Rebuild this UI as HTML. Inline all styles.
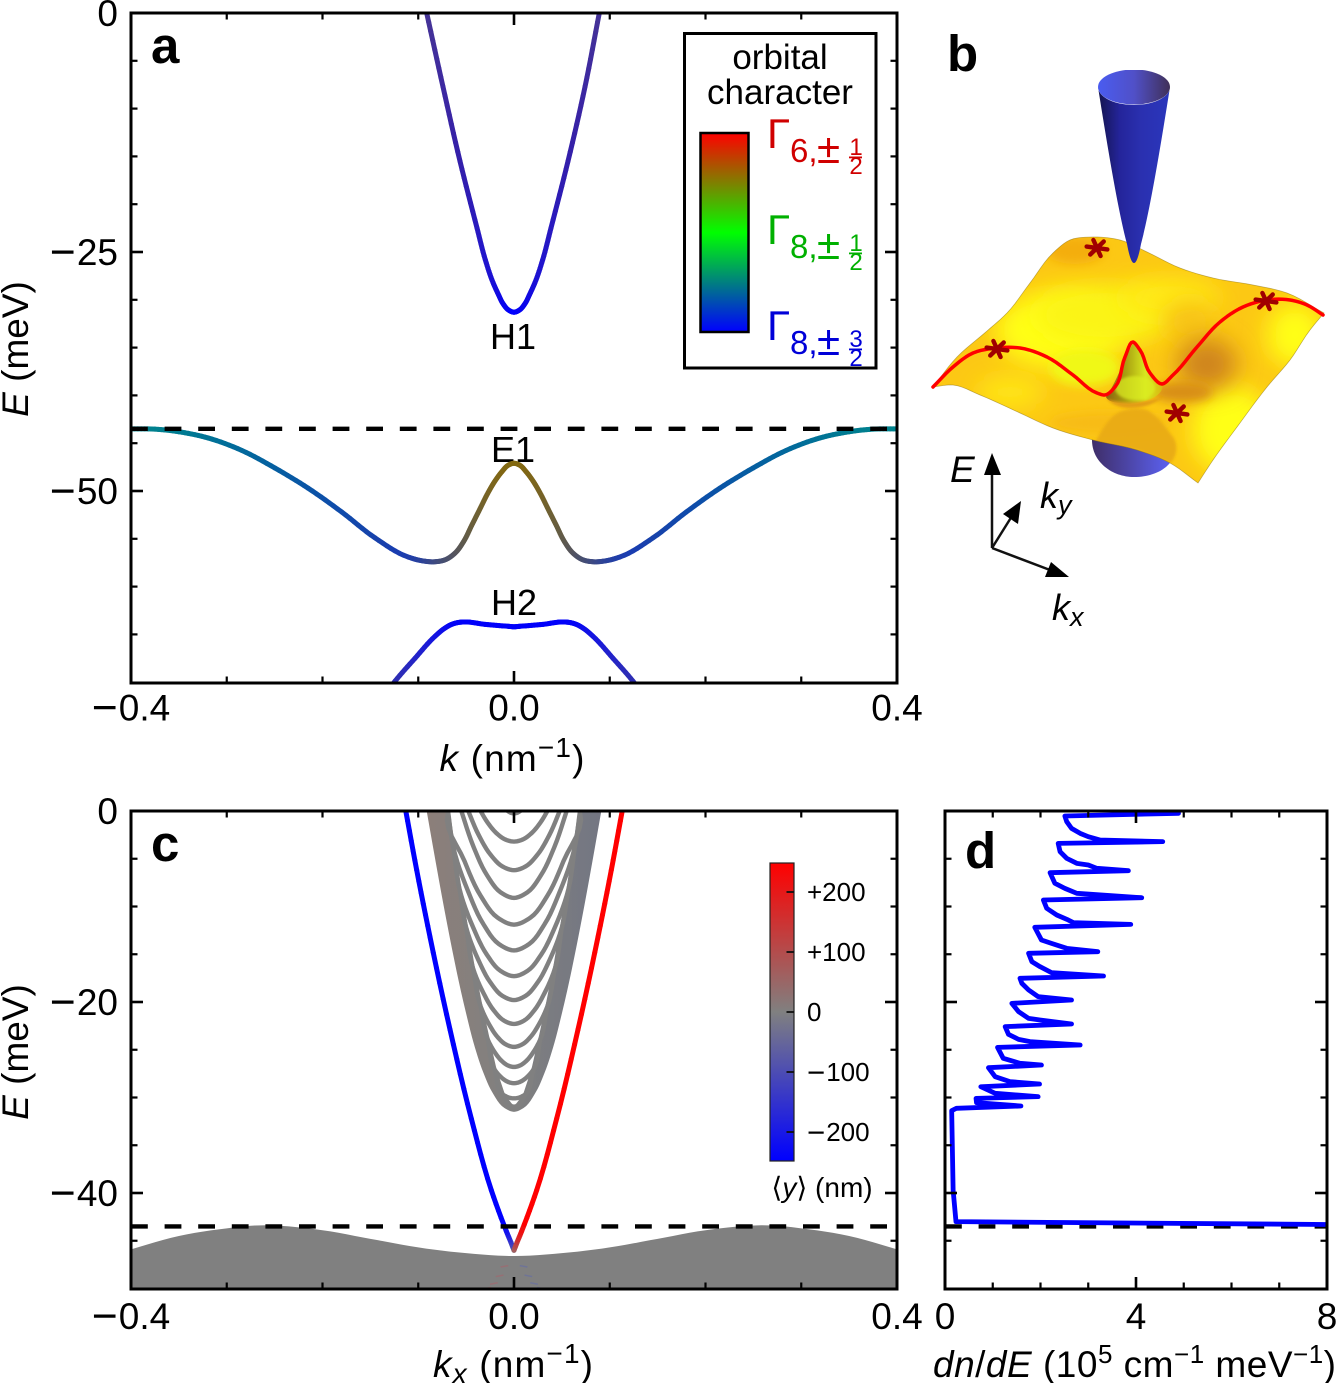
<!DOCTYPE html>
<html>
<head>
<meta charset="utf-8">
<title>Band structure figure</title>
<style>
html,body{margin:0;padding:0;background:#fff;}
svg{display:block;font-family:"Liberation Sans",sans-serif;fill:#000;}
.tl{font-size:37px;}
.pl{font-size:51px;font-weight:bold;}
.it{font-style:italic;}
</style>
</head>
<body>
<svg id="fig" width="1336" height="1383" viewBox="0 0 1336 1383" xmlns="http://www.w3.org/2000/svg">
<defs>
  <clipPath id="clipA"><rect x="131" y="13" width="766" height="670"/></clipPath>
  <clipPath id="clipC"><rect x="131" y="811" width="766" height="478"/></clipPath>
  <clipPath id="clipD"><rect x="945" y="811" width="382" height="478"/></clipPath>
  <clipPath id="clipCone"><rect x="1080" y="70" width="110" height="200"/></clipPath>
  <clipPath id="clipSurface"><path id="surfaceClipPath" d=""/></clipPath>
  <linearGradient id="orbitalGrad" x1="0" y1="0" x2="0" y2="1">
    <stop offset="0" stop-color="#ff0000"/><stop offset="0.5" stop-color="#00ff00"/><stop offset="1" stop-color="#0000ff"/>
  </linearGradient>
  <linearGradient id="yGrad" x1="0" y1="0" x2="0" y2="1">
    <stop offset="0" stop-color="#ff0000"/><stop offset="0.5" stop-color="#808080"/><stop offset="1" stop-color="#0000ff"/>
  </linearGradient>
  <linearGradient id="bandGrad" gradientUnits="userSpaceOnUse" x1="426" y1="0" x2="601" y2="0">
    <stop offset="0" stop-color="#8c7f7a"/><stop offset="0.5" stop-color="#808080"/><stop offset="1" stop-color="#737682"/>
  </linearGradient>
  <linearGradient id="coneBody" x1="0" y1="0" x2="1" y2="0">
    <stop offset="0" stop-color="#14144e"/><stop offset="0.3" stop-color="#24249a"/><stop offset="0.6" stop-color="#2a30b0"/><stop offset="1" stop-color="#2a36bc"/>
  </linearGradient>
  <linearGradient id="coneTop" x1="0" y1="0" x2="1" y2="0">
    <stop offset="0" stop-color="#4a5cf0"/><stop offset="0.5" stop-color="#5050c8"/><stop offset="1" stop-color="#403058"/>
  </linearGradient>
  <linearGradient id="coneLow" x1="0" y1="0" x2="1" y2="0">
    <stop offset="0" stop-color="#3f2e68"/><stop offset="1" stop-color="#5c62f4"/>
  </linearGradient>
  <linearGradient id="peakGrad" x1="0" y1="0" x2="1" y2="0">
    <stop offset="0" stop-color="#8c6010"/><stop offset="0.35" stop-color="#a8a010"/><stop offset="0.7" stop-color="#d8e820"/><stop offset="1" stop-color="#d8b810"/>
  </linearGradient>
  <filter id="blur12" x="-60%" y="-60%" width="220%" height="220%"><feGaussianBlur stdDeviation="12"/></filter>
  <filter id="blur5" x="-60%" y="-60%" width="220%" height="220%"><feGaussianBlur stdDeviation="5"/></filter>
  <filter id="blur2" x="-30%" y="-30%" width="160%" height="160%"><feGaussianBlur stdDeviation="1.4"/></filter>
</defs>

<rect x="0" y="0" width="1336" height="1383" fill="#ffffff"/>

<!-- PANEL A -->
<g id="panelA">
  <text font-size="36" x="513" y="349" text-anchor="middle">H1</text>
  <text font-size="36" x="513" y="462" text-anchor="middle">E1</text>
  <text font-size="36" x="514" y="615" text-anchor="middle">H2</text>
  <g id="aMarks" clip-path="url(#clipA)"></g>
  <g id="aTicks"></g>
  <rect x="131" y="13" width="766" height="670" fill="none" stroke="#000" stroke-width="3"/>
  <text class="pl" x="151" y="63">a</text>
  <text class="tl" transform="rotate(-90 28 349)" x="28" y="349" text-anchor="middle"><tspan class="it">E</tspan> (meV)</text>
  <text class="tl" x="512" y="771" text-anchor="middle" textLength="145" lengthAdjust="spacing"><tspan class="it">k</tspan> (nm<tspan dy="-14" font-size="28">−1</tspan><tspan dy="14">)</tspan></text>
</g>

<!-- LEGEND -->
<g>
  <rect x="684.5" y="33.5" width="191.5" height="334.5" fill="#fff" stroke="#000" stroke-width="3"/>
  <text font-size="35" x="780" y="69" text-anchor="middle">orbital</text>
  <text font-size="35" x="780" y="104" text-anchor="middle">character</text>
  <rect x="700.5" y="133" width="48" height="199" fill="url(#orbitalGrad)" stroke="#000" stroke-width="2.5"/>
  <g>
    <text font-size="42" x="767" y="148" fill="#d00000">Γ</text>
    <text font-size="33" x="790" y="162" fill="#d00000">6,</text>
    <text font-size="42" x="817" y="163" fill="#d00000">±</text>
    <text font-size="24" x="856" y="155" text-anchor="middle" fill="#d00000">1</text>
    <rect x="849" y="156.5" width="13" height="1.8" fill="#d00000"/>
    <text font-size="24" x="856" y="174" text-anchor="middle" fill="#d00000">2</text>
  </g>
  <g>
    <text font-size="42" x="767" y="244" fill="#00b000">Γ</text>
    <text font-size="33" x="790" y="258" fill="#00b000">8,</text>
    <text font-size="42" x="817" y="259" fill="#00b000">±</text>
    <text font-size="24" x="856" y="251" text-anchor="middle" fill="#00b000">1</text>
    <rect x="849" y="252.5" width="13" height="1.8" fill="#00b000"/>
    <text font-size="24" x="856" y="270" text-anchor="middle" fill="#00b000">2</text>
  </g>
  <g>
    <text font-size="42" x="767" y="340" fill="#0000d8">Γ</text>
    <text font-size="33" x="790" y="354" fill="#0000d8">8,</text>
    <text font-size="42" x="817" y="355" fill="#0000d8">±</text>
    <text font-size="24" x="856" y="347" text-anchor="middle" fill="#0000d8">3</text>
    <rect x="849" y="348.5" width="13" height="1.8" fill="#0000d8"/>
    <text font-size="24" x="856" y="366" text-anchor="middle" fill="#0000d8">2</text>
  </g>
</g>

<!-- PANEL B -->
<g id="panelB">
  <text class="pl" x="947" y="71">b</text>
  <path d="M1092,440 C1092,462 1112,477 1134,477 C1152,477 1166,470 1172,460 L1172,430 L1092,430 Z" fill="url(#coneLow)"/>
  <path id="surfaceBase" d="" fill="#fcc814"/>
  <g clip-path="url(#clipSurface)">
    <ellipse cx="1060" cy="330" rx="65" ry="38" fill="#ffff18" filter="url(#blur12)"/>
    <ellipse cx="1105" cy="315" rx="70" ry="30" fill="#fbf414" filter="url(#blur12)"/>
    <ellipse cx="1170" cy="298" rx="50" ry="20" fill="#ffea14" filter="url(#blur12)"/>
    <ellipse cx="1085" cy="368" rx="35" ry="18" fill="#f0f818" filter="url(#blur5)"/>
    <ellipse cx="1295" cy="335" rx="28" ry="32" fill="#ffff18" filter="url(#blur12)"/>
    <ellipse cx="1232" cy="430" rx="40" ry="44" fill="#ffff18" filter="url(#blur12)"/>
    <ellipse cx="1010" cy="392" rx="34" ry="15" fill="#ffe818" filter="url(#blur12)"/>
    <ellipse cx="1190" cy="322" rx="26" ry="22" fill="#f8c414" filter="url(#blur12)"/>
    <ellipse cx="1207" cy="364" rx="30" ry="26" fill="#cf841a" filter="url(#blur12)"/>
    <ellipse cx="1182" cy="392" rx="30" ry="10" fill="#d88e16" filter="url(#blur5)"/>
    <ellipse cx="1075" cy="250" rx="30" ry="14" fill="#f4ae10" filter="url(#blur5)"/>
    <ellipse cx="1110" cy="423" rx="60" ry="11" fill="#f8bc12" filter="url(#blur5)"/>
    <path d="M1095,443 C1102,428 1112,414 1122,411 C1132,408 1140,408 1147,410 C1158,416 1166,428 1173,437 C1179,446 1176,458 1170,463 L1137,450 Z" fill="#e8aa16" opacity="0.9" filter="url(#blur2)"/>
    <path d="M1108,396 C1114,388 1120,378 1124,368 L1128,398 Z" fill="#a86a12" filter="url(#blur2)"/>
    <path d="M1106,397 C1118,380 1125,355 1134,342 C1142,352 1148,376 1162,384 C1165,394 1150,402 1130,404 C1118,404 1108,402 1106,397 Z" fill="url(#peakGrad)"/>
    <ellipse cx="1135" cy="388" rx="20" ry="12" fill="#dcee24" opacity="0.7" filter="url(#blur2)"/>
    <path d="M1106,398 C1118,405 1148,403 1164,396 C1158,401 1148,408 1130,408 C1118,408 1110,403 1106,398 Z" fill="#e29c12" filter="url(#blur2)"/>
  </g>
  <path id="surfaceEdge" d="" fill="none" stroke="#8a7010" stroke-width="0.7" opacity="0.55"/>
  <g clip-path="url(#clipCone)">
    <path d="M1098,87 C1108,150 1118,210 1127,244 Q1134,282 1141,244 C1150,210 1160,150 1170,87 A36,18 0 0 1 1098,87 Z" fill="url(#coneBody)"/>
    <ellipse cx="1134" cy="87" rx="36" ry="17.5" fill="url(#coneTop)"/>
  </g>
  <path id="redCurve" d="" fill="none" stroke="#ff0000" stroke-width="3.5" stroke-linejoin="round" stroke-linecap="round"/>
  <g id="stars"></g>

  <g stroke="#111">
    <line x1="992" y1="548" x2="992" y2="470" stroke-width="2.5"/>
    <line x1="992" y1="548" x2="1012" y2="516" stroke-width="2.5"/>
    <line x1="992" y1="548" x2="1050" y2="570" stroke-width="2.5"/>
    <polygon points="992,453 1001,475 984,475" fill="#000" stroke="none"/>
    <polygon points="1021,501 1018,524 1003,514" fill="#000" stroke="none"/>
    <polygon points="1069,577 1045,577 1051,562" fill="#000" stroke="none"/>
  </g>
  <text class="it" font-size="37" x="950" y="482">E</text>
  <text class="it" font-size="36" x="1040" y="508">k<tspan font-size="27" dy="6">y</tspan></text>
  <text class="it" font-size="36" x="1052" y="620">k<tspan font-size="27" dy="6">x</tspan></text>
</g>

<!-- PANEL C -->
<g id="panelC">
  <g id="cMarks" clip-path="url(#clipC)"></g>
  <g>
    <rect x="770" y="863" width="24" height="298" fill="url(#yGrad)" stroke="#222" stroke-width="1.2"/>
    <g id="cbTicks"></g>
    <text font-size="28" x="822" y="1197" text-anchor="middle">⟨<tspan class="it">y</tspan>⟩ (nm)</text>
  </g>
  <g id="cTicks"></g>
  <rect x="131" y="811" width="766" height="478" fill="none" stroke="#000" stroke-width="3"/>
  <text class="pl" x="151" y="861">c</text>
  <text class="tl" transform="rotate(-90 28 1052)" x="28" y="1052" text-anchor="middle"><tspan class="it">E</tspan> (meV)</text>
  <text class="tl" x="513" y="1377" text-anchor="middle" textLength="160" lengthAdjust="spacing"><tspan class="it">k<tspan font-size="28" dy="6">x</tspan></tspan><tspan dy="-6"> (nm</tspan><tspan dy="-14" font-size="28">−1</tspan><tspan dy="14">)</tspan></text>
</g>

<!-- PANEL D -->
<g id="panelD">
  <g id="dMarks" clip-path="url(#clipD)"></g>
  <g id="dTicks"></g>
  <rect x="945" y="811" width="382" height="478" fill="none" stroke="#000" stroke-width="3"/>
  <text class="pl" x="965" y="868">d</text>
  <text class="tl" x="933" y="1377" textLength="403" lengthAdjust="spacing"><tspan class="it">dn</tspan>/<tspan class="it">dE</tspan> (10<tspan dy="-14" font-size="26">5</tspan><tspan dy="14"> cm</tspan><tspan dy="-14" font-size="26">−1</tspan><tspan dy="14"> meV</tspan><tspan dy="-14" font-size="26">−1</tspan><tspan dy="14">)</tspan></text>
</g>

<script>
// ---------- panel a data ----------
const h1K = [-0.0912,-0.0742,-0.0564,-0.0386,-0.03,-0.0219,-0.0165,-0.0115,-0.006,0,0.006,0.0115,0.0165,0.0219,0.03,0.0386,0.0564,0.0742,0.0891];
const h1E = [0,-7.7,-15.5,-22.5,-25.8,-28.2,-29.4,-30.4,-31.05,-31.3,-31.05,-30.4,-29.4,-28.2,-25.8,-22.5,-15.5,-7.7,0];
const h1Gamma6 = [0.27,0.24,0.2,0.16,0.13,0.1,0.07,0.04,0.02,0,0.02,0.04,0.07,0.1,0.13,0.16,0.2,0.24,0.27];
const h1Gamma8a = [0.2,0.16,0.12,0.1,0.08,0.06,0.04,0.02,0.01,0,0.01,0.02,0.04,0.06,0.08,0.1,0.12,0.16,0.2];
const h1Gamma8b = [0.59,0.63,0.67,0.75,0.8,0.84,0.88,0.92,0.96,1,0.96,0.92,0.88,0.84,0.8,0.75,0.67,0.63,0.59];

const e1K = [-0.4,-0.3715,-0.347,-0.3196,-0.2844,-0.2496,-0.2151,-0.1799,-0.1452,-0.1107,-0.096,-0.0825,-0.072,-0.0616,-0.0527,-0.0442,-0.0357,-0.0272,-0.0195,-0.0128,-0.006,0];
const e1E = [-43.5,-43.55,-43.85,-44.45,-45.75,-47.6,-49.7,-52.2,-54.9,-56.9,-57.3,-57.4,-57.2,-56.5,-55.3,-53.6,-51.9,-50.2,-48.9,-48.0,-47.3,-47.1];
const e1Gamma6 = [0,0,0,0,0.01,0.02,0.04,0.06,0.09,0.12,0.17,0.24,0.28,0.33,0.37,0.41,0.44,0.47,0.49,0.5,0.51,0.51];
const e1Gamma8a = [0.51,0.5,0.48,0.45,0.41,0.37,0.33,0.29,0.26,0.24,0.26,0.29,0.31,0.33,0.35,0.37,0.38,0.39,0.4,0.4,0.41,0.41];
const e1Gamma8b = [0.55,0.56,0.57,0.59,0.61,0.63,0.65,0.67,0.67,0.67,0.6,0.51,0.44,0.37,0.3,0.24,0.19,0.14,0.11,0.08,0.07,0.06];

const h2K = [-0.14,-0.1243,-0.1034,-0.0825,-0.073,-0.0651,-0.058,-0.0512,-0.0303,-0.0063,0];
const h2E = [-72,-69.9,-67.5,-65.2,-64.4,-63.95,-63.75,-63.7,-63.95,-64.15,-64.2];
const h2Gamma6 = [0.18,0.18,0.14,0.08,0.05,0.02,0.01,0,0,0,0];
const h2Gamma8a = [0.18,0.18,0.14,0.08,0.05,0.02,0.01,0,0,0,0];
const h2Gamma8b = [0.69,0.7,0.78,0.88,0.92,0.96,0.97,0.98,0.98,0.98,0.98];

const neutralityE = [-43.5];
const kMajorTicks = [0];
const kMinorTicks = [-0.3,-0.2,-0.1,0.1,0.2,0.3];
const kTickLabelValues = [-0.4,0,0.4];
const kTickLabels = ['−0.4','0.0','0.4'];
const aEMajorTicks = [-25,-50];
const aEMinorTicks = [-5,-10,-15,-20,-30,-35,-40,-45,-55,-60,-65];
const aETickLabelValues = [0,-25,-50];
const aETickLabels = ['0','−25','−50'];

// ---------- panel c data ----------
const envelopeK = [-0.0912,-0.0815,-0.072,-0.065,-0.058,-0.05,-0.0407,-0.032,-0.023,-0.01,0,0.01,0.023,0.032,0.0407,0.05,0.058,0.065,0.072,0.0815,0.0912];
const envelopeE = [0,-5.5,-10.7,-14.3,-17.7,-21.2,-24.8,-27.4,-29.4,-31.1,-31.5,-31.1,-29.4,-27.4,-24.8,-21.2,-17.7,-14.3,-10.7,-5.5,0];
const levelBottomE = [-30.96,-30.09,-28.5,-26.8,-24.7,-22.3,-19.8,-17.3,-14.6,-11.9,-9.1,-6.2,-3.2,-0.25];
const mergeK = [-0.0094,-0.0181,-0.0251,-0.0327,-0.0407,-0.0477,-0.0546,-0.0616,-0.0668];
const mergeE = [-29.7,-27.1,-24.0,-20.5,-16.5,-12.3,-8.3,-3.7,-0.1];
const upperCrossK = [-0.0672,-0.056,-0.049,-0.0366,-0.012];
const upperCrossE = [0.3,0.3,0.3,0.3,0.6];
const edgeK = [0,0.0023,0.008,0.0237,0.0446,0.0668,0.0877,0.1016,0.113];
const edgeE = [-46,-45.4,-44,-39.7,-32.2,-22.9,-13.2,-6.2,0];
const edgeAbsY = [60,120,220,250,250,250,250,250,250];
const valenceK = [-0.4,-0.35,-0.3,-0.27,-0.2,-0.15,-0.1,-0.05,0,0.05,0.1,0.15,0.2,0.27,0.3,0.35,0.4];
const valenceE = [-45.9,-44.5,-43.7,-43.4,-43.9,-44.8,-45.7,-46.3,-46.6,-46.3,-45.7,-44.8,-43.9,-43.4,-43.7,-44.5,-45.9];
const ghostK = [0.006,0.011,0.017,0.024];
const ghostE = [-47.6,-48.6,-49.4,-49.9];
const cEMajorTicks = [-20,-40];
const cEMinorTicks = [-5,-10,-15,-25,-30,-35,-45];
const cETickLabelValues = [0,-20,-40];
const cETickLabels = ['0','−20','−40'];
const positionTickValues = [200,100,0,-100,-200];
const positionTickLabels = ['+200','+100','0','−100','−200'];

// ---------- panel d data ----------
const dosV = [4.89,2.51,2.55,2.65,2.83,3.00,3.25,4.56,2.37,2.41,2.55,2.76,3.00,3.18,3.84,2.20,2.30,2.51,2.76,4.12,2.06,2.13,2.34,2.58,2.69,3.89,1.88,2.02,2.23,2.55,3.20,1.75,1.82,1.99,2.23,3.32,1.57,1.61,1.75,1.95,2.65,1.40,1.54,1.75,1.99,2.65,1.26,1.33,1.54,1.78,2.83,1.10,1.22,1.57,2.02,0.91,1.05,1.36,1.98,0.75,1.05,1.95,0.65,0.66,1.59,0.24,0.14,0.17,0.23,8.0];
const dosE = [-0.24,-0.52,-1.12,-1.82,-2.34,-2.69,-3.04,-3.21,-3.39,-4.26,-4.96,-5.48,-5.65,-6.00,-6.25,-6.46,-7.57,-8.10,-8.62,-9.08,-9.32,-10.19,-10.89,-11.41,-11.69,-11.87,-12.18,-13.51,-13.86,-14.38,-14.73,-14.90,-15.78,-16.30,-16.93,-17.28,-17.52,-18.05,-18.74,-19.44,-19.79,-20.14,-21.01,-21.71,-21.88,-22.30,-22.58,-23.39,-23.91,-24.15,-24.50,-24.75,-25.90,-26.42,-26.60,-26.88,-27.82,-28.34,-28.59,-28.87,-29.56,-29.91,-30.09,-30.54,-30.89,-31.13,-31.38,-39.7,-43.0,-43.3];
const dVMajorTicks = [4];
const dVMinorTicks = [1,2,3,5,6,7];
const dTickLabelValues = [0,4,8];
const dTickLabels = ['0','4','8'];

// ---------- panel b illustration outlines (not data) ----------
const surfaceTopEdge = [[933,387],[957,357],[987,331],[1007,313],[1030,283],[1053,253],[1070,240],[1093,237],[1120,240],[1147,252],[1180,268],[1213,278],[1253,285],[1287,293],[1324,313]];
const surfaceRightEdge = [[1324,313],[1310,330],[1290,360],[1267,387],[1237,427],[1213,460],[1198,483]];
const surfaceBottomEdge = [[1198,483],[1170,463],[1137,450],[1093,440],[1053,428],[1020,413],[980,395],[953,385],[933,387]];
const cutLine = [[933,387],[953,367],[973,353],[997,348],[1020,348],[1047,357],[1073,375],[1097,393],[1105,395],[1115,387],[1125,357],[1133,342],[1140,350],[1150,373],[1162,384],[1173,375],[1197,347],[1220,322],[1243,307],[1267,300],[1290,300],[1307,305],[1323,315]];
const starSpots = [[997,349],[1097,248],[1266,301],[1177,413]];

// ---------- axis functions ----------
const xK = k => 514 + k * 957.5;
const yA = e => 13 - e * 9.56;
const yC = e => 811 - e * 9.55;
const xV = v => 945 + v * 47.75;

const NS = 'http://www.w3.org/2000/svg';
function node(parent, tag, attrs) {
  const el = document.createElementNS(NS, tag);
  for (const a in attrs) el.setAttribute(a, attrs[a]);
  parent.appendChild(el);
  return el;
}
// chord-length Hermite spline through rows; the first two channels set the parameter spacing
function spline(pts, n) {
  const m = pts.length;
  if (m < 2) return pts.slice();
  const dim = pts[0].length;
  const d = [];
  for (let i = 0; i < m - 1; i++) d.push(Math.max(1e-3, Math.hypot(pts[i + 1][0] - pts[i][0], pts[i + 1][1] - pts[i][1])));
  const slope = i => pts[i].map((v, c) => (pts[i + 1][c] - v) / d[i]);
  const tan = [];
  for (let i = 0; i < m; i++) {
    if (i === 0) tan.push(slope(0));
    else if (i === m - 1) tan.push(slope(m - 2));
    else {
      const a = slope(i - 1), b = slope(i);
      tan.push(a.map((v, c) => (d[i] * v + d[i - 1] * b[c]) / (d[i] + d[i - 1])));
    }
  }
  const out = [];
  for (let i = 0; i < m - 1; i++) {
    for (let s = 0; s < n; s++) {
      const t = s / n, t2 = t * t, t3 = t2 * t;
      const h00 = 2 * t3 - 3 * t2 + 1, h10 = t3 - 2 * t2 + t, h01 = -2 * t3 + 3 * t2, h11 = t3 - t2;
      const row = [];
      for (let c = 0; c < dim; c++) row.push(h00 * pts[i][c] + h10 * d[i] * tan[i][c] + h01 * pts[i + 1][c] + h11 * d[i] * tan[i + 1][c]);
      out.push(row);
    }
  }
  out.push(pts[m - 1].slice());
  return out;
}
const toPath = (pts, close) => 'M' + pts.map(p => p[0].toFixed(2) + ',' + p[1].toFixed(2)).join(' L') + (close ? ' Z' : '');
const clamp = v => Math.max(0, Math.min(255, Math.round(v)));

function drawOrbitalBand(parent, name, ks, es, f6, f8a, f8b, mirror) {
  let rows = ks.map((k, i) => [xK(k), yA(es[i]), f6[i], f8a[i], f8b[i]]);
  if (mirror) {
    const back = [];
    for (let i = ks.length - 2; i >= 0; i--) back.push([xK(-ks[i]), yA(es[i]), f6[i], f8a[i], f8b[i]]);
    rows = rows.concat(back);
  }
  const dense = spline(rows, 8);
  const g = node(parent, 'g', {});
  
  
  for (let i = 0; i < dense.length - 1; i++) {
    const a = dense[i], b = dense[i + 1];
    const seg = node(g, 'line', {x1: a[0], y1: a[1], x2: b[0], y2: b[1], 'stroke-width': 5, 'stroke-linecap': 'round',
      stroke: 'rgb(' + clamp(a[2] * 255) + ',' + clamp(a[3] * 255) + ',' + clamp(a[4] * 255) + ')'});
    
    
  }
}
function drawDashed(parent, name, x1, x2, y) {
  const l = node(parent, 'line', {x1: x1, x2: x2, y1: y, y2: y, stroke: '#000', 'stroke-width': 4.4, 'stroke-dasharray': '16.8 16.8'});
  
  
}
function drawTicks(parent, prefix, box, xMaj, xMin, xf, yMaj, yMin, yf) {
  const tick = (x1, y1, x2, y2, w) => {
    const t = node(parent, 'line', {x1: x1, y1: y1, x2: x2, y2: y2, stroke: '#000', 'stroke-width': w});
    
    
  };
  const MAJ = 12, MIN = 6.5;
  xMaj.forEach(v => { const x = xf(v); tick(x, box.b, x, box.b - MAJ, 2.6); tick(x, box.t, x, box.t + MAJ, 2.6); });
  xMin.forEach(v => { const x = xf(v); tick(x, box.b, x, box.b - MIN, 2.2); tick(x, box.t, x, box.t + MIN, 2.2); });
  yMaj.forEach(v => { const y = yf(v); tick(box.l, y, box.l + MAJ, y, 2.6); tick(box.r, y, box.r - MAJ, y, 2.6); });
  yMin.forEach(v => { const y = yf(v); tick(box.l, y, box.l + MIN, y, 2.2); tick(box.r, y, box.r - MIN, y, 2.2); });
}
// leading minus signs are drawn a little wider, as in the reference typeface
function fillLabel(t, label, size) {
  if (label[0] === '−') {
    const m = node(t, 'tspan', {'font-size': size * 1.2, dy: 2, 'letter-spacing': 1});
    m.textContent = '−';
    const r = node(t, 'tspan', {dy: -2});
    r.textContent = label.slice(1);
  } else {
    t.textContent = label;
  }
}
function tickLabels(parent, name, values, labels, fx, fy, anchor) {
  values.forEach((v, i) => {
    const t = node(parent, 'text', {x: fx(v), y: fy(v), 'text-anchor': anchor, 'class': 'tl'});
    
    
    fillLabel(t, labels[i], 37);
  });
}

// ---------- panel a ----------
const aMarks = document.getElementById('aMarks');
drawOrbitalBand(aMarks, 'band-h1', h1K, h1E, h1Gamma6, h1Gamma8a, h1Gamma8b, false);
drawOrbitalBand(aMarks, 'band-e1', e1K, e1E, e1Gamma6, e1Gamma8a, e1Gamma8b, true);
drawOrbitalBand(aMarks, 'band-h2', h2K, h2E, h2Gamma6, h2Gamma8a, h2Gamma8b, true);
drawDashed(aMarks, 'neutrality-dashed-line-a', 131, 897, yA(neutralityE[0]));
const aTicks = document.getElementById('aTicks');
drawTicks(aTicks, 'panel-a', {l: 131, r: 897, t: 13, b: 683}, kMajorTicks, kMinorTicks, xK, aEMajorTicks, aEMinorTicks, yA);
tickLabels(aTicks, 'panel-a-x-tick-label', kTickLabelValues, kTickLabels, xK, () => 720.5, 'middle');
tickLabels(aTicks, 'panel-a-y-tick-label', aETickLabelValues, aETickLabels, () => 118, v => yA(v) + 13, 'end');

// ---------- panel c ----------
const cMarks = document.getElementById('cMarks');
const valTop = valenceK.map((k, i) => [xK(k), yC(valenceE[i])]);
const valDense = spline(valTop, 6);
const valPoly = node(cMarks, 'path', {d: toPath(valDense.concat([[897, 1292], [131, 1292]]), true), fill: '#808080'});



const envPts = spline(envelopeK.map((k, i) => [xK(k), yC(envelopeE[i])]), 6);
const env = node(cMarks, 'path', {d: toPath(envPts, true), fill: 'url(#bandGrad)'});



const innerLeft = mergeK.map((k, i) => [xK(k), yC(mergeE[i])]).reverse();
const innerRight = mergeK.map((k, i) => [xK(-k), yC(mergeE[i])]);
const inner = node(cMarks, 'path', {d: toPath([[xK(mergeK[8]), yC(1)]].concat(innerLeft, [[xK(0), yC(levelBottomE[0])]], innerRight, [[xK(-mergeK[8]), yC(1)]]), true), fill: '#ffffff'});



// level strokes sit just outside the merge points, so the white gaps run right up to the solid band
const strokeOutset = 0.002;
levelBottomE.forEach((e0, i) => {
  const wing = [];
  if (i > 0 && i - 1 < mergeK.length) wing.push([mergeK[i - 1] - strokeOutset, mergeE[i - 1]]);
  if (i < mergeK.length) wing.push([mergeK[i] - strokeOutset, mergeE[i]]);
  if (i >= mergeK.length) wing.push([upperCrossK[i - mergeK.length], upperCrossE[i - mergeK.length]]);
  // round the bottom of each subband: parabolic from its minimum out to the first anchor
  const first = wing[0];
  const leftHalf = [];
  [0.25, 0.5, 0.75].forEach(t => leftHalf.push([first[0] * t, e0 + (first[1] - e0) * t * t]));
  const ordered = [[0, e0]].concat(leftHalf, wing);
  const pts = [];
  ordered.slice(1).reverse().forEach(p => pts.push([xK(p[0]), yC(p[1])]));
  pts.push([xK(0), yC(e0)]);
  ordered.slice(1).forEach(p => pts.push([xK(-p[0]), yC(p[1])]));
  const lv = node(cMarks, 'path', {d: toPath(spline(pts, 6)), fill: 'none', stroke: '#808080', 'stroke-width': 4.4, 'stroke-linecap': 'butt'});
  
  
});

function positionColor(y) {
  const t = Math.min(1, Math.abs(y) / 250);
  const hi = y > 0 ? [255, 0, 0] : [0, 0, 255];
  return 'rgb(' + clamp(128 + (hi[0] - 128) * t) + ',' + clamp(128 + (hi[1] - 128) * t) + ',' + clamp(128 + (hi[2] - 128) * t) + ')';
}
[-1, 1].forEach(side => {
  const rows = edgeK.map((k, i) => [xK(side * k), yC(edgeE[i]), edgeAbsY[i]]);
  const dense = spline(rows, 6);
  for (let i = 0; i < dense.length - 1; i++) {
    const seg = node(cMarks, 'line', {x1: dense[i][0], y1: dense[i][1], x2: dense[i + 1][0], y2: dense[i + 1][1], 'stroke-width': 5, 'stroke-linecap': 'round', stroke: positionColor(side * dense[i][2])});
    
    
  }
  ghostK.forEach((k, i) => {
    const g = node(cMarks, 'line', {x1: xK(side * k) , y1: yC(ghostE[i]), x2: xK(side * (k + 0.008)), y2: yC(ghostE[i] - 0.15), 'stroke-width': 1.5, opacity: 0.35, stroke: side < 0 ? '#c05060' : '#5060c0'});
    
    
  });
});
drawDashed(cMarks, 'neutrality-dashed-line-c', 131, 897, yC(neutralityE[0]));
const cTicks = document.getElementById('cTicks');
drawTicks(cTicks, 'panel-c', {l: 131, r: 897, t: 811, b: 1289}, kMajorTicks, kMinorTicks, xK, cEMajorTicks, cEMinorTicks, yC);
tickLabels(cTicks, 'panel-c-x-tick-label', kTickLabelValues, kTickLabels, xK, () => 1329, 'middle');
tickLabels(cTicks, 'panel-c-y-tick-label', cETickLabelValues, cETickLabels, () => 118, v => yC(v) + 13, 'end');

const yBar = v => 1012 - v * 0.6;
const cbTicks = document.getElementById('cbTicks');
positionTickValues.forEach((v, i) => {
  const t = node(cbTicks, 'line', {x1: 786.5, x2: 794, y1: yBar(v), y2: yBar(v), stroke: '#111', 'stroke-width': 1.8});
  
  
  const l = node(cbTicks, 'text', {x: 807, y: yBar(v) + 9, 'font-size': 26});
  
  
  fillLabel(l, positionTickLabels[i], 26);
});

// ---------- panel d ----------
const dMarks = document.getElementById('dMarks');
drawDashed(dMarks, 'neutrality-dashed-line-d', 945, 1327, yC(neutralityE[0]));
const dos = node(dMarks, 'path', {d: toPath(dosV.map((v, i) => [xV(v), yC(dosE[i])])), fill: 'none', stroke: '#0000ff', 'stroke-width': 4.8, 'stroke-linejoin': 'round', 'stroke-linecap': 'round'});


const dTicks = document.getElementById('dTicks');
drawTicks(dTicks, 'panel-d', {l: 945, r: 1327, t: 811, b: 1289}, dVMajorTicks, dVMinorTicks, xV, cEMajorTicks, cEMinorTicks, yC);
tickLabels(dTicks, 'panel-d-x-tick-label', dTickLabelValues, dTickLabels, xV, () => 1329, 'middle');

// ---------- panel b ----------
const surfaceDense = spline(surfaceTopEdge, 6).concat(spline(surfaceRightEdge, 6), spline(surfaceBottomEdge, 6));
const surfD = toPath(surfaceDense, true);
document.getElementById('surfaceBase').setAttribute('d', surfD);
document.getElementById('surfaceClipPath').setAttribute('d', surfD);
document.getElementById('surfaceEdge').setAttribute('d', surfD);
document.getElementById('redCurve').setAttribute('d', toPath(spline(cutLine, 6)));
const stars = document.getElementById('stars');
starSpots.forEach(s => {
  const st = node(stars, 'g', {stroke: '#a00000', 'stroke-width': 4.4, 'stroke-linecap': 'round'});
  
  
  [10, 70, 130].forEach(deg => {
    const r = deg * Math.PI / 180, dx = 10.5 * Math.cos(r), dy = 8.5 * Math.sin(r);
    node(st, 'line', {x1: s[0] - dx, y1: s[1] - dy, x2: s[0] + dx, y2: s[1] + dy});
  });
});
</script>
</svg>
</body>
</html>
